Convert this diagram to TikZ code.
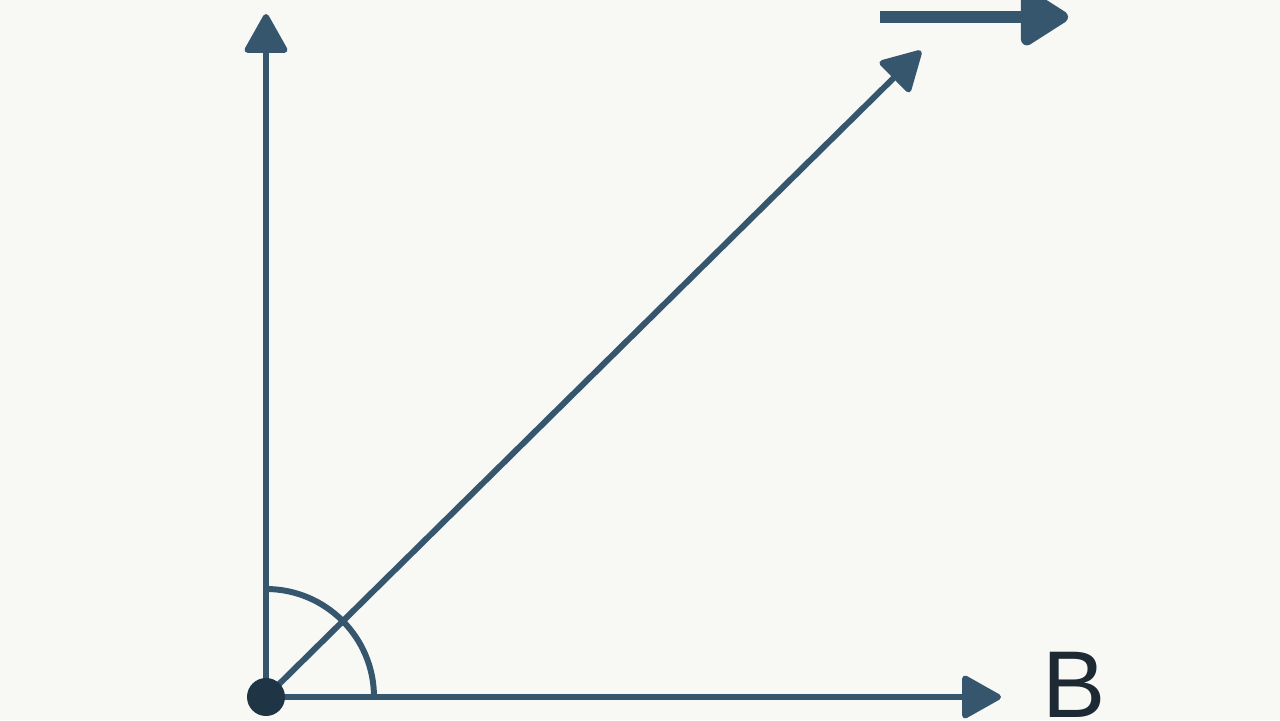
\documentclass[tikz,border=0pt]{standalone}
\usepackage{fontspec}
\setmainfont{Liberation Sans}
\usetikzlibrary{arrows.meta}
\definecolor{bgpaper}{HTML}{F8F8F5}
\definecolor{slate}{HTML}{35566D}
\definecolor{dotink}{HTML}{1F3444}
\definecolor{labelink}{HTML}{1E2A33}

\begin{document}
\begin{tikzpicture}[x=0.02cm,y=0.02cm,line width=3.4pt,color=slate,
  axis/.style={-{Triangle[length=24pt,width=26pt,round]}}]
\fill[bgpaper] (0,0) rectangle (1280,720);
\useasboundingbox (0,0) rectangle (1280,720);

\coordinate (O) at (266,23);
\coordinate (Y) at (266,706);
\coordinate (X) at (1001,23);
\coordinate (P) at (921,669);
\coordinate (Ps) at (880,703);
\coordinate (Pe) at (1068,703);

% angle mark
\draw (O) ++(0,108) arc[start angle=90,end angle=0,radius=108];

\draw[axis] (O)--(Y);
\draw[axis] (O)--(X);
\draw[axis] (O)--(P);
\draw[line width=6.8pt,-{Triangle[length=30pt,width=36pt,round]}] (Ps)--(Pe);

\fill[dotink] (O) circle (19);

\node[labelink,anchor=base west,inner sep=0pt,font=\fontsize{54}{60}\selectfont] (B) at (1039,3) {B};

\end{tikzpicture}
\end{document}
